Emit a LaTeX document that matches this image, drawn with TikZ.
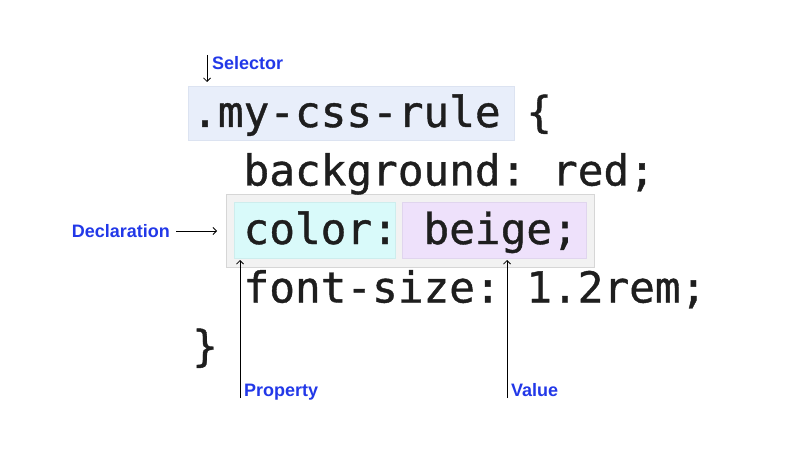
\documentclass[tikz,border=0pt]{standalone}
\usepackage{fontspec}
\setmainfont{Liberation Sans}
\newfontfamily\codefont[FakeBold=0.9]{DejaVu Sans Mono}
\newcommand\codesp{\hspace*{0.602em}}
\usetikzlibrary{arrows.meta}
\definecolor{lblue}{HTML}{2238E8}
\definecolor{codec}{HTML}{1E1E1E}
\definecolor{selfill}{HTML}{E8EEFA}
\definecolor{seldraw}{HTML}{DCE3F1}
\definecolor{decfill}{HTML}{F2F2F2}
\definecolor{decdraw}{HTML}{D6D6D6}
\definecolor{propfill}{HTML}{D9FAFA}
\definecolor{propdraw}{HTML}{CDEDED}
\definecolor{valfill}{HTML}{EEE1FB}
\definecolor{valdraw}{HTML}{E0D5EE}
\tikzset{
  codeline/.style={anchor=base west, inner sep=0pt, text=codec, font=\codefont\fontsize{42.7}{50}\selectfont},
  lbl/.style={inner sep=0pt, text=lblue, font=\bfseries\fontsize{18}{20}\selectfont},
  hbox/.style={rectangle, inner sep=0pt, line width=1pt},
  arr/.style={-{Straight Barb[length=3.5pt,width=7pt]}, line width=0.8pt, black}
}
\begin{document}
\begin{tikzpicture}[x=1pt,y=-1pt]
\useasboundingbox (0,0) rectangle (800,465);
% boxes
\node[hbox, fill=selfill, draw=seldraw, minimum width=326pt, minimum height=54pt] (selbox) at (351,114) {};
\node[hbox, fill=decfill, draw=decdraw, minimum width=368pt, minimum height=72pt] (decbox) at (410,231) {};
\node[hbox, fill=propfill, draw=propdraw, minimum width=161pt, minimum height=55pt] (propbox) at (314.5,230.5) {};
\node[hbox, fill=valfill, draw=valdraw, minimum width=184pt, minimum height=55pt] (valbox) at (494,230.5) {};
% code
\node[codeline] (l1) at (192,127) {.my-css-rule\codesp\{};
\node[codeline] (l2) at (243.4,185.5) {background:\codesp red;};
\node[codeline] (l3) at (243.4,244) {color:\codesp beige;};
\node[codeline] (l4) at (243.4,302.5) {font-size:\codesp 1.2rem;};
\node[codeline] (l5) at (192,361) {\}};
% labels
\node[lbl, anchor=base west] (sel) at (212,70) {Selector};
\node[lbl, anchor=base east] (dec) at (170,237) {Declaration};
\node[lbl, anchor=base west] (prop) at (244,396) {Property};
\node[lbl, anchor=base west] (val) at (511,396) {Value};
% arrow coordinates
\coordinate (selA) at (207,55);
\coordinate (selB) at (207,82);
\coordinate (decA) at (176,231);
\coordinate (decB) at (217,231);
\coordinate (propA) at (240,398);
\coordinate (propB) at (240,260);
\coordinate (valA) at (507,398);
\coordinate (valB) at (507,260);
\draw[arr] (selA) -- (selB);
\draw[arr] (decA) -- (decB);
\draw[arr] (propA) -- (propB);
\draw[arr] (valA) -- (valB);
\end{tikzpicture}
\end{document}
